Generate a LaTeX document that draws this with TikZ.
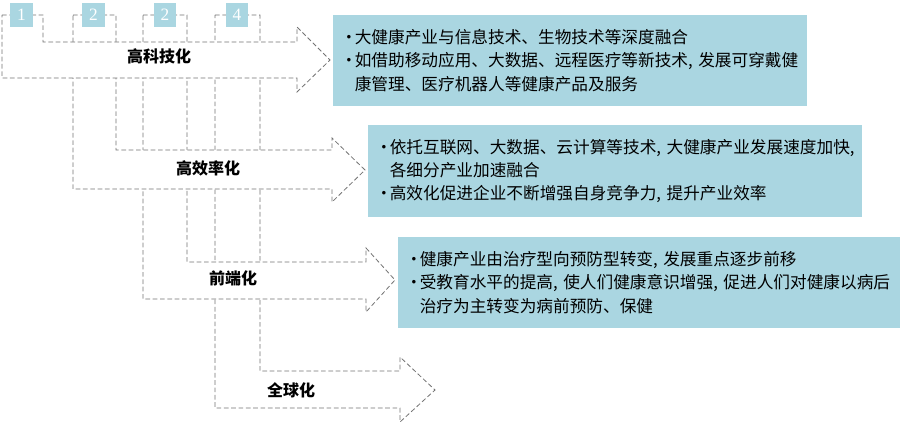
\documentclass[tikz,border=0pt]{standalone}
\usepackage{fontspec}
\newfontfamily\cjk{Noto Sans CJK SC}
\newfontfamily\numfont{Liberation Serif}
\usetikzlibrary{positioning}
\definecolor{tabblue}{RGB}{170,214,225}
\newcommand{\itemdot}{\makebox[0.85em][l]{•}}
\newcommand{\itemcont}{\hspace*{0.85em}}

\begin{document}
\begin{tikzpicture}[
    x=0.75pt, y=-0.75pt,
    flow/.style={draw=black!55, dash pattern=on 3.5pt off 2pt,
                 line width=0.6pt, fill=white},
    stage/.style={font=\cjk\bfseries\fontsize{12}{14}\selectfont},
    numtab/.style={fill=tabblue, minimum width=17pt, minimum height=18pt,
                   inner sep=0pt, text=white,
                   font=\numfont\fontsize{13}{13}\selectfont},
    infobox/.style={fill=tabblue, anchor=west, align=left,
                    inner xsep=5.5pt, minimum height=68.5pt,
                    font=\cjk\fontsize{12.5}{17.5}\selectfont}
]
  \useasboundingbox (0,0) rectangle (910,424);

  % --- Dashed arrows, back to front ---
  \draw[flow] (215,15) -- (260,15) -- (260,371) -- (400,371) -- (400,357)
    -- (435,390) -- (400,422) -- (400,408) -- (215,408) -- cycle;
  \draw[flow] (143,15) -- (187,15) -- (187,262) -- (366,262) -- (366,248)
    -- (395,280) -- (366,312) -- (366,299) -- (143,299) -- cycle;
  \draw[flow] (73,15) -- (116,15) -- (116,150) -- (332,150) -- (332,138)
    -- (365,170) -- (332,202) -- (332,189) -- (73,189) -- cycle;
  \draw[flow] (2,15) -- (43,15) -- (43,42) -- (297,42) -- (297,27)
    -- (330,60) -- (297,92) -- (297,78) -- (2,78) -- cycle;

  % --- Number tabs ---
  \node[numtab] (tabA) at (21.5,15) {1};
  \node[numtab] (tabB) at (93.5,15) {2};
  \node[numtab] (tabC) at (165,15) {2};
  \node[numtab] (tabD) at (237,15) {4};

  % --- Stage labels ---
  \node[stage] (hightech) at (159,56) {高科技化};
  \node[stage] (efficient) at (208,168) {高效率化};
  \node[stage] (frontend) at (233,278) {前端化};
  \node[stage] (global) at (291,390) {全球化};

  % --- Info boxes ---
  \node[infobox, text width=344.5pt] (techBox) at (333,60.5)
    {\itemdot 大健康产业与信息技术、生物技术等深度融合\\
     \itemdot 如借助移动应用、大数据、远程医疗等新技术,~发展可穿戴健\\
     \itemcont 康管理、医疗机器人等健康产品及服务};
  \node[infobox, text width=359.5pt] (effBox) at (368,171)
    {\itemdot 依托互联网、大数据、云计算等技术,~大健康产业发展速度加快,\\
     \itemcont 各细分产业加速融合\\
     \itemdot 高效化促进企业不断增强自身竞争力,~提升产业效率};
  \node[infobox, text width=365.5pt] (frontBox) at (398,282.5)
    {\itemdot 健康产业由治疗型向预防型转变,~发展重点逐步前移\\
     \itemdot 受教育水平的提高,~使人们健康意识增强,~促进人们对健康以病后\\
     \itemcont 治疗为主转变为病前预防、保健};

\end{tikzpicture}
\end{document}
